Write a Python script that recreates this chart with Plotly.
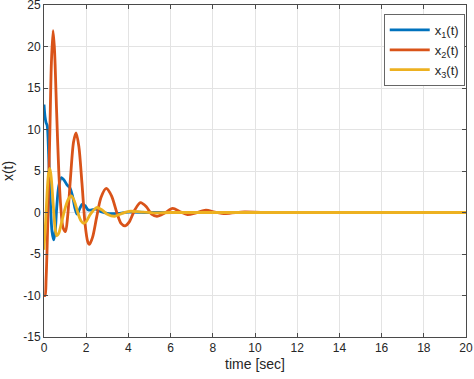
import plotly.graph_objects as go

# ---- data ----
t1 = [0, 0.05, 0.1, 0.15, 0.22, 0.3, 0.38, 0.46, 0.53, 0.6, 0.7, 0.83, 0.95, 1.1, 1.22, 1.35, 1.47, 1.57,
      1.7, 1.82, 1.95, 2.1, 2.25, 2.45, 2.7, 3.0, 3.5, 4.0, 5.0, 20]
x1 = [13.0, 11.5, 10.8, 10.5, 7.0, 1.5, -2.3, -3.3, -2.3, 0.5, 3.2, 4.2, 3.9, 3.3, 3.0, 2.0, 0.5, -0.2,
      0.5, 1.0, 0.8, 0.3, 0.3, 0.4, 0.1, -0.1, -0.1, 0.05, 0.0, 0.0]

t2 = [0, 0.05, 0.1, 0.15, 0.2, 0.28, 0.35, 0.43, 0.5, 0.6, 0.7, 0.8, 0.9, 1.02, 1.12, 1.25, 1.4, 1.52,
      1.65, 1.8, 1.95, 2.07, 2.15, 2.3, 2.5, 2.7, 2.95, 3.2, 3.45, 3.65, 3.85, 4.05, 4.3, 4.57, 4.85,
      5.1, 5.35, 5.7, 6.1, 6.45, 6.8, 7.2, 7.67, 8.1, 8.6, 9.5, 10.5, 20]
x2 = [-10.0, -10.0, -8.0, -4.0, 1.0, 10.0, 18.0, 21.9, 19.5, 12.0, 5.0, 0.5, -1.8, -2.3, -0.5, 4.0, 8.5, 9.6,
      8.0, 3.5, -1.5, -3.5, -3.85, -3.0, -0.5, 1.8, 2.9, 2.0, 0.0, -1.3, -1.6, -1.1, 0.3, 1.2, 0.7,
      -0.2, -0.45, -0.1, 0.5, 0.1, -0.25, -0.05, 0.28, 0.05, -0.12, 0.08, 0.0, 0.0]

t3 = [0, 0.08, 0.15, 0.22, 0.28, 0.35, 0.45, 0.53, 0.6, 0.7, 0.85, 1.0, 1.15, 1.3, 1.45, 1.6, 1.75, 1.88,
      2.0, 2.2, 2.5, 2.75, 3.0, 3.35, 3.7, 4.1, 4.6, 5.3, 6.0, 20]
x3 = [-4.5, -1.0, 2.5, 4.8, 5.3, 4.0, 0.5, -2.0, -2.8, -2.5, -1.0, 0.5, 1.6, 2.0, 1.3, 0.0, -1.0, -1.3,
      -1.1, -0.2, 0.6, 0.3, -0.2, -0.45, -0.1, 0.15, 0.05, -0.05, 0.0, 0.0]

names = ["x<sub>1</sub>(t)", "x<sub>2</sub>(t)", "x<sub>3</sub>(t)"]
colors = ["#0072BD", "#D95319", "#EDB120"]
x_ticks = list(range(0, 21, 2))
y_ticks = list(range(-15, 26, 5))

fig = go.Figure()
for t, x, n, c in zip([t1, t2, t3], [x1, x2, x3], names, colors):
    fig.add_trace(go.Scatter(x=t, y=x, mode="lines", name=n,
                             line=dict(color=c, width=2.8, shape="spline", smoothing=0.8)))

axis_col = "#4a4a4a"
grid_col = "#e3e3e3"
font_family = "Liberation Sans, Arial, Helvetica, sans-serif"

fig.update_layout(
    width=474, height=379,
    margin=dict(l=44, r=8, t=5, b=42, autoexpand=False),
    paper_bgcolor="white", plot_bgcolor="white",
    font=dict(family=font_family, size=12, color="#262626"),
    showlegend=True,
    legend=dict(x=0.997, xanchor="right", y=0.973, yanchor="top",
                bgcolor="white", bordercolor="#666666", borderwidth=1,
                itemwidth=40,
                font=dict(size=13, color="#262626"), tracegroupgap=0),
    xaxis=dict(range=[0, 20], tickvals=x_ticks, ticktext=[str(v) for v in x_ticks],
               automargin=False,
               showgrid=True, gridcolor=grid_col, zeroline=False,
               showline=True, linecolor=axis_col, linewidth=1, mirror="ticks",
               ticks="inside", ticklen=4, tickcolor=axis_col,
               ticklabeloverflow="allow",
               title=dict(text="time [sec]", font=dict(size=14), standoff=4),
               tickfont=dict(size=12)),
    yaxis=dict(range=[-15, 25], tickvals=y_ticks, ticktext=[str(v) for v in y_ticks],
               automargin=False,
               showgrid=True, gridcolor=grid_col, zeroline=False,
               showline=True, linecolor=axis_col, linewidth=1, mirror="ticks",
               ticks="inside", ticklen=4, tickcolor=axis_col,
               ticklabeloverflow="allow",
               title=dict(text="x(t)", font=dict(size=14), standoff=6),
               tickfont=dict(size=12)),
)

fig.write_html("out.html", config={"displayModeBar": False},
               post_script="document.body.style.margin='0px';")
